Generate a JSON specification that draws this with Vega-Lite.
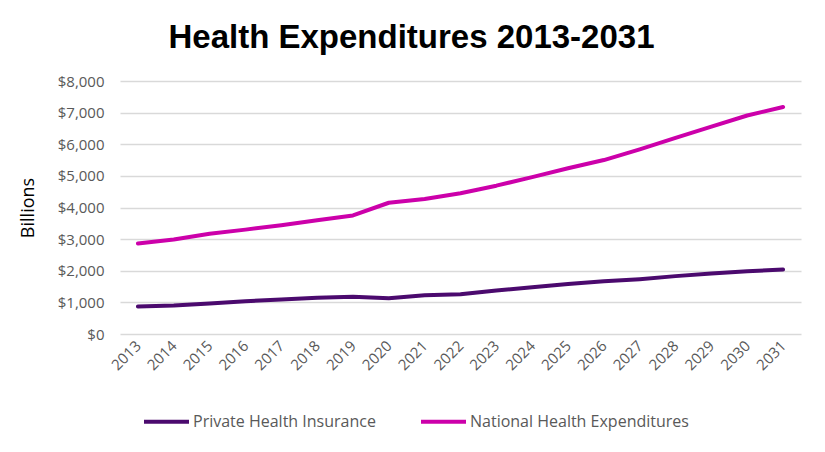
{
  "$schema": "https://vega.github.io/schema/vega-lite/v6.json",
  "width": 681,
  "height": 253,
  "autosize": {"type": "none"},
  "padding": {"left": 120, "top": 81, "right": 24, "bottom": 118},
  "background": "white",
  "title": {
    "text": "Health Expenditures 2013-2031",
    "font": "Liberation Sans",
    "fontSize": 33,
    "fontWeight": "bold",
    "color": "#000000",
    "anchor": "middle",
    "dx": -49,
    "offset": 19
  },
  "data": {
    "values": [
      {"year": "2013", "series": "Private Health Insurance", "value": 870},
      {"year": "2014", "series": "Private Health Insurance", "value": 905},
      {"year": "2015", "series": "Private Health Insurance", "value": 968},
      {"year": "2016", "series": "Private Health Insurance", "value": 1035},
      {"year": "2017", "series": "Private Health Insurance", "value": 1090},
      {"year": "2018", "series": "Private Health Insurance", "value": 1150},
      {"year": "2019", "series": "Private Health Insurance", "value": 1180},
      {"year": "2020", "series": "Private Health Insurance", "value": 1130},
      {"year": "2021", "series": "Private Health Insurance", "value": 1225},
      {"year": "2022", "series": "Private Health Insurance", "value": 1260},
      {"year": "2023", "series": "Private Health Insurance", "value": 1375},
      {"year": "2024", "series": "Private Health Insurance", "value": 1480},
      {"year": "2025", "series": "Private Health Insurance", "value": 1580},
      {"year": "2026", "series": "Private Health Insurance", "value": 1665},
      {"year": "2027", "series": "Private Health Insurance", "value": 1735},
      {"year": "2028", "series": "Private Health Insurance", "value": 1830},
      {"year": "2029", "series": "Private Health Insurance", "value": 1915},
      {"year": "2030", "series": "Private Health Insurance", "value": 1985},
      {"year": "2031", "series": "Private Health Insurance", "value": 2040},
      {"year": "2013", "series": "National Health Expenditures", "value": 2860},
      {"year": "2014", "series": "National Health Expenditures", "value": 2990},
      {"year": "2015", "series": "National Health Expenditures", "value": 3170},
      {"year": "2016", "series": "National Health Expenditures", "value": 3300},
      {"year": "2017", "series": "National Health Expenditures", "value": 3440},
      {"year": "2018", "series": "National Health Expenditures", "value": 3595},
      {"year": "2019", "series": "National Health Expenditures", "value": 3750},
      {"year": "2020", "series": "National Health Expenditures", "value": 4150},
      {"year": "2021", "series": "National Health Expenditures", "value": 4270},
      {"year": "2022", "series": "National Health Expenditures", "value": 4450},
      {"year": "2023", "series": "National Health Expenditures", "value": 4690},
      {"year": "2024", "series": "National Health Expenditures", "value": 4960},
      {"year": "2025", "series": "National Health Expenditures", "value": 5240},
      {"year": "2026", "series": "National Health Expenditures", "value": 5500},
      {"year": "2027", "series": "National Health Expenditures", "value": 5840},
      {"year": "2028", "series": "National Health Expenditures", "value": 6200},
      {"year": "2029", "series": "National Health Expenditures", "value": 6560},
      {"year": "2030", "series": "National Health Expenditures", "value": 6910},
      {"year": "2031", "series": "National Health Expenditures", "value": 7180}
    ]
  },
  "mark": {"type": "line", "strokeWidth": 4, "strokeCap": "round", "strokeJoin": "round"},
  "encoding": {
    "x": {
      "field": "year",
      "type": "ordinal",
      "scale": {"type": "point", "padding": 0.5},
      "axis": {
        "title": null,
        "labelAngle": -45,
        "labelAlign": "right",
        "labelBaseline": "middle",
        "labelFont": "Open Sans",
        "labelFontSize": 15,
        "labelColor": "#595959",
        "labelPadding": 9,
        "ticks": false,
        "domain": false,
        "grid": false
      }
    },
    "y": {
      "field": "value",
      "type": "quantitative",
      "scale": {"domain": [0, 8000], "nice": false},
      "axis": {
        "title": "Billions",
        "titleFont": "Open Sans",
        "titleFontSize": 18,
        "titleFontWeight": "normal",
        "titleColor": "#000000",
        "titlePadding": 20,
        "values": [0, 1000, 2000, 3000, 4000, 5000, 6000, 7000, 8000],
        "format": "$,.0f",
        "labelFont": "Open Sans",
        "labelFontSize": 15,
        "labelColor": "#595959",
        "labelPadding": 16,
        "ticks": false,
        "domain": false,
        "grid": true,
        "gridColor": "#d9d9d9",
        "gridWidth": 1.5
      }
    },
    "color": {
      "field": "series",
      "type": "nominal",
      "sort": ["Private Health Insurance", "National Health Expenditures"],
      "scale": {
        "domain": ["Private Health Insurance", "National Health Expenditures"],
        "range": ["#4B0A6E", "#CC00AA"]
      },
      "legend": {
        "title": null,
        "orient": "none",
        "legendX": 22,
        "legendY": 316,
        "direction": "horizontal",
        "symbolType": "stroke",
        "symbolSize": 2025,
        "symbolStrokeWidth": 4,
        "labelFont": "Open Sans",
        "labelFontSize": 16,
        "labelColor": "#595959",
        "labelOffset": 2,
        "labelLimit": 0,
        "columnPadding": 37
      }
    }
  },
  "config": {"view": {"stroke": null}}
}
